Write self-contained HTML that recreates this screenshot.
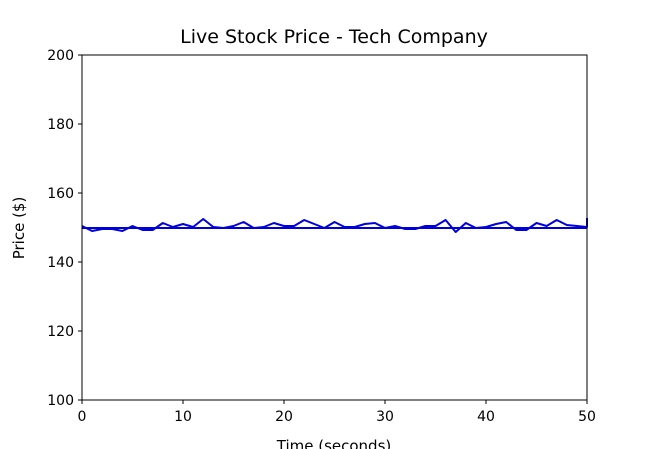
<!DOCTYPE html>
<html><head><style>body{margin:0;background:#fff;overflow:hidden}svg{display:block}text{font-family:"DejaVu Sans","Liberation Sans",sans-serif;fill:#000}</style></head>
<body>
<svg width="652" height="449" viewBox="0 0 652 449">
<text x="334" y="43" font-size="19" text-anchor="middle">Live Stock Price - Tech Company</text>
<g stroke="#0000dd" stroke-width="2" fill="none" stroke-linejoin="round">
<polyline points="82,228 587,228"/>
<polyline points="82,226 92.1,231 102.2,229 112.3,229 122.4,231 132.5,226 142.6,230 152.7,230 162.8,223 172.9,227 183,224 193.1,227 203.2,219 213.3,227 223.4,228 233.5,226 243.6,222 253.7,228 263.8,227 273.9,223 284,226 294.1,226 304.2,220 314.3,224 324.4,228 334.5,222 344.6,227 354.7,227 364.8,224 374.9,223 385,228 395.1,226 405.2,229 415.3,229 425.4,226 435.5,226 445.6,220 455.7,232 465.8,223 475.9,228 486,227 496.1,224 506.2,222 516.3,230 526.4,230 536.5,223 546.6,226 556.7,220 566.8,225 576.9,226 587,227 587,218"/>
</g>
<rect x="82" y="55" width="505" height="345" fill="none" stroke="#000" stroke-width="1"/>
<g stroke="#000" stroke-width="1">
<line x1="82" y1="400" x2="82" y2="404"/><line x1="183" y1="400" x2="183" y2="404"/><line x1="284" y1="400" x2="284" y2="404"/><line x1="385" y1="400" x2="385" y2="404"/><line x1="486" y1="400" x2="486" y2="404"/><line x1="587" y1="400" x2="587" y2="404"/>
<line x1="78" y1="55" x2="82" y2="55"/><line x1="78" y1="124" x2="82" y2="124"/><line x1="78" y1="193" x2="82" y2="193"/><line x1="78" y1="262" x2="82" y2="262"/><line x1="78" y1="331" x2="82" y2="331"/><line x1="78" y1="400" x2="82" y2="400"/>
</g>
<g font-size="14" text-anchor="middle">
<text x="82" y="421">0</text><text x="183" y="421">10</text><text x="284" y="421">20</text><text x="385" y="421">30</text><text x="486" y="421">40</text><text x="587" y="421">50</text>
</g>
<g font-size="14" text-anchor="end">
<text x="74" y="60">200</text><text x="74" y="129">180</text><text x="74" y="198">160</text><text x="74" y="267">140</text><text x="74" y="336">120</text><text x="74" y="405">100</text>
</g>
<text x="334" y="451" font-size="15" text-anchor="middle">Time (seconds)</text>
<text transform="translate(24,228) rotate(-90)" font-size="15" text-anchor="middle">Price ($)</text>
</svg>
</body></html>
